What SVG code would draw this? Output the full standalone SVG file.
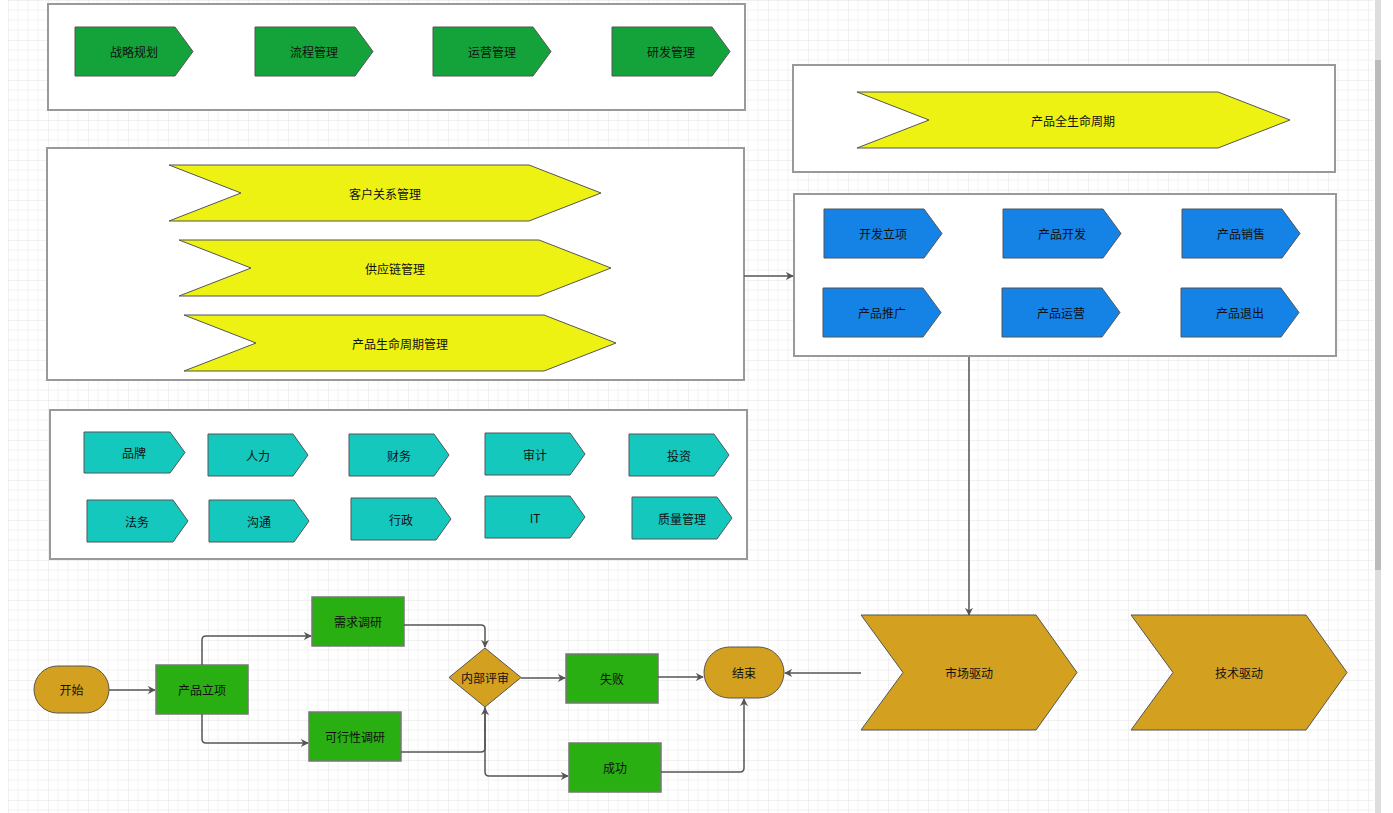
<svg xmlns="http://www.w3.org/2000/svg" width="1393" height="813" viewBox="0 0 1393 813">
<defs>
<pattern id="g" width="40" height="40" patternUnits="userSpaceOnUse" x="8" y="0">
<path d="M10 0V40M20 0V40M30 0V40M0 10H40M0 20H40M0 30H40" stroke="#f2f2f2" stroke-width="1" fill="none"/>
<path d="M0 0V40M0 0H40" stroke="#e4e4e4" stroke-width="1" fill="none"/>
</pattern>
<marker id="a" viewBox="0 0 10 10" refX="9" refY="5" markerWidth="8" markerHeight="8" orient="auto" markerUnits="userSpaceOnUse"><path d="M0 0L10 5L0 10L3 5Z" fill="#555"/></marker>
<style>
text{font-family:"Noto Sans CJK SC","Liberation Sans",sans-serif;font-size:12px;fill:#111;text-anchor:middle;dominant-baseline:central}
.box{fill:#fff;stroke:#999;stroke-width:2}
.gr{fill:#14A33A;stroke:#555}
.ye{fill:#EEF213;stroke:#555}
.te{fill:#15C8BE;stroke:#555}
.bl{fill:#1583E5;stroke:#555}
.go{fill:#D4A020;stroke:#555}
.fg{fill:#2AAF13;stroke:#777;stroke-width:1.5}
.c{fill:none;stroke:#555;stroke-width:1.5;marker-end:url(#a)}
</style>
</defs>
<rect width="1393" height="813" fill="#fff"/>
<rect x="8" y="0" width="1365" height="813" fill="url(#g)"/>
<rect x="1375" y="0" width="6" height="813" fill="#ddd"/><rect x="1375" y="60" width="6" height="510" fill="#bbb"/>

<g id="top"><rect class="box" x="48" y="4" width="697" height="106"/>
<g id="n1"><path class="gr" d="M75 27H175L193 51.5L175 76H75Z"/><text x="134" y="51">战略规划</text></g>
<g id="n2"><path class="gr" d="M255 27H355L373 51.5L355 76H255Z"/><text x="314" y="51">流程管理</text></g>
<g id="n3"><path class="gr" d="M433 27H533L551 51.5L533 76H433Z"/><text x="492" y="51">运营管理</text></g>
<g id="n4"><path class="gr" d="M612 27H712L730 51.5L712 76H612Z"/><text x="671" y="51">研发管理</text></g>
</g>

<g id="mid"><rect class="box" x="47" y="148" width="697" height="232"/>
<g id="y1"><path class="ye" d="M169 165H529L601 193L529 221H169L241 193Z"/><text x="385" y="193">客户关系管理</text></g>
<g id="y2"><path class="ye" d="M179 240H539L611 268L539 296H179L251 268Z"/><text x="395" y="268">供应链管理</text></g>
<g id="y3"><path class="ye" d="M184 315H544L616 343L544 371H184L256 343Z"/><text x="400" y="343">产品生命周期管理</text></g>
</g>

<g id="bot"><rect class="box" x="50" y="410" width="697" height="149"/>
<g id="t1"><path class="te" d="M84 432H170L185 452.5L170 473H84Z"/><text x="134" y="452">品牌</text></g>
<g id="t2"><path class="te" d="M208 434H293L308 455L293 476H208Z"/><text x="258" y="455">人力</text></g>
<g id="t3"><path class="te" d="M349 434H434L449 455L434 476H349Z"/><text x="399" y="455">财务</text></g>
<g id="t4"><path class="te" d="M485 433H570L585 454L570 475H485Z"/><text x="535" y="454">审计</text></g>
<g id="t5"><path class="te" d="M629 434H714L729 455L714 476H629Z"/><text x="679" y="455">投资</text></g>
<g id="t6"><path class="te" d="M87 500H173L188 521L173 542H87Z"/><text x="137" y="521">法务</text></g>
<g id="t7"><path class="te" d="M209 500H294L309 521L294 542H209Z"/><text x="259" y="521">沟通</text></g>
<g id="t8"><path class="te" d="M351 498H436L451 519L436 540H351Z"/><text x="401" y="519">行政</text></g>
<g id="t9"><path class="te" d="M485 496H570L585 517L570 538H485Z"/><text x="535" y="517">IT</text></g>
<g id="t10"><path class="te" d="M632 497H717L732 518L717 539H632Z"/><text x="682" y="518">质量管理</text></g>
</g>

<g id="rt"><rect class="box" x="793" y="65" width="542" height="107"/>
<g id="plc"><path class="ye" d="M857 92H1218L1290 120L1218 148H857L929 120Z"/><text x="1073" y="120">产品全生命周期</text></g>
</g>

<g id="rb"><rect class="box" x="794" y="194" width="542" height="162"/>
<g id="b1"><path class="bl" d="M824 209H924L942 233.5L924 258H824Z"/><text x="883" y="233">开发立项</text></g>
<g id="b2"><path class="bl" d="M1003 209H1103L1121 233.5L1103 258H1003Z"/><text x="1062" y="233">产品开发</text></g>
<g id="b3"><path class="bl" d="M1182 209H1282L1300 233.5L1282 258H1182Z"/><text x="1241" y="233">产品销售</text></g>
<g id="b4"><path class="bl" d="M823 288H923L941 312.5L923 337H823Z"/><text x="882" y="312">产品推广</text></g>
<g id="b5"><path class="bl" d="M1002 288H1102L1120 312.5L1102 337H1002Z"/><text x="1061" y="312">产品运营</text></g>
<g id="b6"><path class="bl" d="M1181 288H1281L1299 312.5L1281 337H1181Z"/><text x="1240" y="312">产品退出</text></g>
</g>

<g id="m1"><path class="go" d="M861 615H1036L1077 672.5L1036 730H861L903 672.5Z"/><text x="969" y="672">市场驱动</text></g>
<g id="m2"><path class="go" d="M1131 615H1306L1347 672.5L1306 730H1131L1173 672.5Z"/><text x="1239" y="672">技术驱动</text></g>

<g id="f1"><rect class="go" x="34" y="666" width="75" height="47" rx="23.5"/><text x="71.5" y="689">开始</text></g>
<g id="f2"><rect class="fg" x="156" y="665" width="92" height="49"/><text x="202" y="689">产品立项</text></g>
<g id="f3"><rect class="fg" x="312" y="597" width="92" height="49"/><text x="358" y="621">需求调研</text></g>
<g id="f4"><rect class="fg" x="309" y="712" width="92" height="49"/><text x="355" y="736">可行性调研</text></g>
<g id="f5"><path class="go" d="M485 648L521 677.5L485 707L449 677.5Z"/><text x="485" y="677">内部评审</text></g>
<g id="f6"><rect class="fg" x="566" y="654" width="92" height="49"/><text x="612" y="678">失败</text></g>
<g id="f7"><rect class="fg" x="569" y="743" width="92" height="49"/><text x="615" y="767">成功</text></g>
<g id="f8"><rect class="go" x="704" y="647" width="80" height="51" rx="25.5"/><text x="744" y="672">结束</text></g>

<g id="connectors">
<path class="c" d="M744 276H793"/>
<path class="c" d="M969 357V615"/>
<path class="c" d="M109 690H155"/>
<path class="c" d="M202 665V640Q202 636 206 636H311"/>
<path class="c" d="M202 714V739Q202 743 206 743H308"/>
<path class="c" d="M404 625H481Q485 625 485 629V647"/>
<path class="c" d="M401 752H481Q485 752 485 748V708"/>
<path class="c" d="M485 707V772Q485 776 489 776H568"/>
<path class="c" d="M521 678H565"/>
<path class="c" d="M658 677H703"/>
<path class="c" d="M661 772H740Q744 772 744 768V699"/>
<path class="c" d="M861 673H785"/>
</g>
</svg>
